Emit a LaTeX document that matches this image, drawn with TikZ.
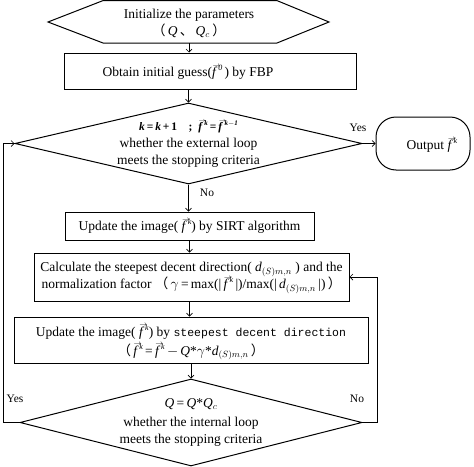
\documentclass[tikz,border=0pt]{standalone}
\usepackage{fontspec}
\setmainfont{Liberation Serif}
\setmonofont{Liberation Mono}
\newfontfamily\cjk{Noto Sans CJK SC}
\usetikzlibrary{shapes.geometric,arrows.meta}
% vector f with superscript, set in text
\newcommand{\fvs}[1]{\mbox{\rlap{\kern0.4pt\raisebox{9.6pt}{$\scriptscriptstyle\rightarrow$}}{\itshape f}\kern2.4pt\raisebox{0.45em}{\fontsize{8}{8}\selectfont\itshape #1}}}
\newcommand{\fvsb}[1]{\mbox{\rlap{\kern0.4pt\raisebox{8.4pt}{$\scriptscriptstyle\rightarrow$}}{\bfseries\itshape f}\kern2.4pt\raisebox{0.45em}{\fontsize{7}{7}\selectfont\bfseries\itshape #1}}}
\newcommand{\dS}{\mbox{\itshape d}$_{(S)m,n}$}
\begin{document}
\begin{tikzpicture}[x=1pt,y=-1pt,font=\fontsize{13.5}{17}\selectfont,
  line/.style={line width=1pt},
  box/.style={draw, line width=1pt, rectangle, inner sep=0pt},
  dec/.style={draw, line width=1pt, diamond, inner sep=0pt},
  term/.style={draw, line width=1pt, rectangle, rounded corners=20pt, inner sep=0pt},
  arr/.style={draw, line width=0.7pt, -{Straight Barb[length=3pt,width=6pt]}},
  lbl/.style={inner sep=0pt, align=center},
  small/.style={inner sep=0pt, font=\fontsize{11.5}{13}\selectfont}]
\useasboundingbox (0,0) rectangle (474,466);
% hexagon
\draw[line] (48,22) -- (103,0.6) -- (277,0.6) -- (329,22) -- (277,43) -- (103,43) -- cycle;
\coordinate (hexb) at (189,43);
\node[lbl] (t1) at (189,23) {Initialize the parameters\\{\cjk （}\,{\itshape Q}\,{\cjk 、}\,{\itshape Q}$_c$\,{\cjk ）}};
% boxes
\node[box, minimum width=292pt, minimum height=36pt] (r2) at (210,71) {};
\node[lbl] (t2) at (188,72) {Obtain initial guess(\fvs{0}\,) by FBP};
\node[dec, minimum width=347pt, minimum height=81pt] (d1) at (188.5,143.5) {};
\node[lbl] (t3) at (188.5,144) {{\fontsize{11.5}{13}\selectfont\bfseries\textit{k}\,=\,\textit{k}\,+\,1\quad;\enspace\fvsb{k}\,=\,\fvsb{k$-$1}}\\whether the external loop\\meets the stopping criteria};
\node[term, minimum width=94pt, minimum height=53pt] (out) at (423,143.5) {};
\node[lbl] (t4) at (432,145) {Output \fvs{k}};
\node[box, minimum width=249pt, minimum height=28pt] (r3) at (189.5,226) {};
\node[lbl] (t5) at (189.5,226) {Update the image( \fvs{k}) by SIRT algorithm};
\node[box, minimum width=315pt, minimum height=48pt] (r4) at (191.5,277) {};
\node[lbl] (t6) at (191.5,278) {Calculate the steepest decent direction( \dS\ ) and the\\normalization factor {\cjk （}\,$\gamma$\,=\,max(|\,\fvs{k}\,|)/max(|\,\dS\,|)\,{\cjk ）}};
\node[box, minimum width=354pt, minimum height=46pt] (r5) at (191,340) {};
\node[lbl, font=\fontsize{13.5}{19}\selectfont] (t7) at (191,342) {Update the image( \fvs{k}) by {\ttfamily\fontsize{11.5}{19}\selectfont steepest decent direction}\\{\cjk （}\,\fvs{k}\,=\,\fvs{k}\,$-$\,{\itshape Q}*$\gamma$*\dS\,{\cjk ）}};
\node[dec, minimum width=342pt, minimum height=87pt] (d2) at (191,422.5) {};
\node[lbl] (t8) at (191,422) {{\itshape Q}\,=\,{\itshape Q}*{\itshape Q}$_c$\\[2pt]whether the internal loop\\meets the stopping criteria};
% connectors
\draw[arr] (hexb) -- (hexb |- r2.north);
\draw[arr] (d1.north |- r2.south) -- (d1.north);
\draw[arr] (d1.east) -- (out.west);
\draw[arr] (d1.south) -- (d1.south |- r3.north);
\draw[arr] (r3.south) -- (r4.north -| r3.south);
\draw[arr] (r4.south -| r3.south) -- (r5.north -| r3.south);
\draw[arr] (r5.south) -- (d2.north);
\coordinate (lft) at (3,422.5);
\draw[arr] (d2.west) -- (lft) -- (lft |- d1.west) -- (d1.west);
\coordinate (rgt) at (377,422.5);
\draw[arr] (d2.east) -- (rgt) -- (rgt |- r4.east) -- (r4.east);
% labels
\node[small] (yes1) at (358,128) {Yes};
\node[small] (no1) at (207,193) {No};
\node[small] (yes2) at (15,399) {Yes};
\node[small] (no2) at (357,399) {No};
\end{tikzpicture}
\end{document}
